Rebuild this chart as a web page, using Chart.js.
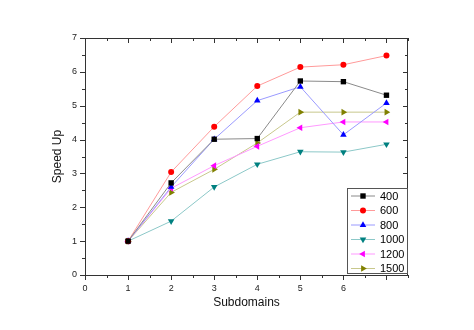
<!DOCTYPE html>
<html>
<head>
<meta charset="utf-8">
<script src="https://cdn.jsdelivr.net/npm/chart.js@4/dist/chart.umd.min.js"></script>
<style>
  html, body { margin: 0; padding: 0; background: #fff; }
  #wrap { width: 474px; height: 330px; }
</style>
</head>
<body>
<div id="wrap"><canvas id="speedChart" width="474" height="330"></canvas></div>
<script>
// Subdomains (x)
const subdomains = [1, 2, 3, 4, 5, 6, 7];
// Speed up per problem size
const s400  = [1.0, 2.72, 4.01, 4.03, 5.73, 5.71, 5.31];
const s600  = [1.0, 3.04, 4.38, 5.58, 6.14, 6.21, 6.48];
const s800  = [1.0, 2.60, 4.01, 5.15, 5.56, 4.14, 5.08];
const s1000 = [1.0, 1.59, 2.60, 3.27, 3.64, 3.63, 3.86];
const s1200 = [1.0, 2.56, 3.23, 3.80, 4.35, 4.52, 4.52];
const s1500 = [1.0, 2.44, 3.12, 3.90, 4.81, 4.81, 4.81];
const seriesNames = ['400', '600', '800', '1000', '1200', '1500'];

const toPts = vals => vals.map((v, i) => ({ x: subdomains[i], y: v }));

const styles = [
  { line: '#8a8a8a', fill: '#000000', shape: 'rect', rot: 0, r: 3.8 },
  { line: '#ff9a9a', fill: '#ff0000', shape: 'circle', rot: 0, r: 3 },
  { line: '#9a9aff', fill: '#0000ff', shape: 'triangle', rot: 0, r: 3.8 },
  { line: '#8cc8c8', fill: '#008080', shape: 'triangle', rot: 180, r: 3.8 },
  { line: '#ff99ff', fill: '#ff00ff', shape: 'triangle', rot: -90, r: 3.8 },
  { line: '#c8c88c', fill: '#808000', shape: 'triangle', rot: 90, r: 3.8 }
];
const allSeries = [s400, s600, s800, s1000, s1200, s1500];

const datasets = allSeries.map((vals, i) => ({
  label: seriesNames[i],
  data: toPts(vals),
  borderColor: styles[i].line,
  borderWidth: 1,
  pointStyle: styles[i].shape,
  pointRotation: styles[i].rot,
  pointRadius: styles[i].r,
  pointBackgroundColor: styles[i].fill,
  pointBorderColor: styles[i].fill,
  pointBorderWidth: 0,
  tension: 0
}));

// Origin-style ticks, frame and boxed legend
const originDecor = {
  id: 'originDecor',
  afterDraw(chart) {
    const c = chart.ctx;
    const xs = chart.scales.x, ys = chart.scales.y;
    const a = chart.chartArea;
    c.save();
    c.strokeStyle = '#333';
    c.lineWidth = 1;
    c.beginPath();
    c.moveTo(a.left, a.top + 0.5); c.lineTo(a.right, a.top + 0.5);
    c.moveTo(a.right - 0.5, a.top); c.lineTo(a.right - 0.5, a.bottom);
    for (let v = 0; v <= 7.5001; v += 0.5) {
      const px = Math.round(xs.getPixelForValue(v)) + 0.5;
      const len = Number.isInteger(v) ? 5 : 3;
      c.moveTo(px, a.bottom); c.lineTo(px, a.bottom + len);
      c.moveTo(px, a.top); c.lineTo(px, a.top + len);
    }
    for (let v = 0; v <= 7.0001; v += 0.5) {
      const py = Math.round(ys.getPixelForValue(v)) + 0.5;
      const len = Number.isInteger(v) ? 5 : 3;
      c.moveTo(a.left, py); c.lineTo(a.left - len, py);
      c.moveTo(a.right, py); c.lineTo(a.right - len, py);
    }
    c.stroke();

    // legend
    const bx = 347.5, by = 188.5, bw = 60, bh = 85;
    c.fillStyle = '#fff';
    c.fillRect(bx, by, bw, bh);
    c.strokeStyle = '#555';
    c.strokeRect(bx, by, bw, bh);
    c.font = '11px "Liberation Sans", Arial, sans-serif';
    c.textBaseline = 'middle';
    c.textAlign = 'left';
    chart.data.datasets.forEach((ds, i) => {
      const y = 196 + i * 14.5;
      c.strokeStyle = ds.borderColor;
      c.beginPath();
      c.moveTo(351, y); c.lineTo(375, y);
      c.stroke();
      c.fillStyle = ds.pointBackgroundColor;
      c.strokeStyle = ds.pointBorderColor;
      Chart.helpers.drawPoint(c, {
        pointStyle: ds.pointStyle, rotation: ds.pointRotation,
        radius: ds.pointRadius, borderWidth: 0
      }, 363, y);
      c.fillStyle = '#000';
      c.fillText(ds.label, 380, y + 0.5);
    });
    c.restore();
  }
};

const ctx = document.getElementById('speedChart').getContext('2d');
new Chart(ctx, {
  type: 'line',
  data: { datasets: datasets },
  options: {
    responsive: false,
    animation: false,
    layout: { padding: { top: 38, right: 66, left: 0, bottom: 0 } },
    plugins: { legend: { display: false }, tooltip: { enabled: false } },
    scales: {
      x: {
        type: 'linear',
        min: 0, max: 7.5,
        afterFit: s => { s.height = 55; },
        grid: { display: false, drawTicks: false },
        border: { display: true, color: '#333', width: 1 },
        ticks: {
          stepSize: 1, padding: 8, color: '#222',
          font: { family: '"Liberation Sans", Arial, sans-serif', size: 9 },
          callback: v => (Number.isInteger(v) && v <= 7 ? v : '')
        },
        title: {
          display: true, text: 'Subdomains', color: '#111',
          font: { family: '"Liberation Sans", Arial, sans-serif', size: 12 },
          padding: { top: 0, bottom: 20 }
        }
      },
      y: {
        min: 0, max: 7,
        afterFit: s => { s.width = 85; },
        grid: { display: false, drawTicks: false },
        border: { display: true, color: '#333', width: 1 },
        ticks: {
          stepSize: 1, padding: 8, color: '#222',
          font: { family: '"Liberation Sans", Arial, sans-serif', size: 9 }
        },
        title: {
          display: true, text: 'Speed Up', color: '#111',
          font: { family: '"Liberation Sans", Arial, sans-serif', size: 12 },
          padding: { top: 50, bottom: 0 }
        }
      }
    }
  },
  plugins: [originDecor]
});
</script>
</body>
</html>
